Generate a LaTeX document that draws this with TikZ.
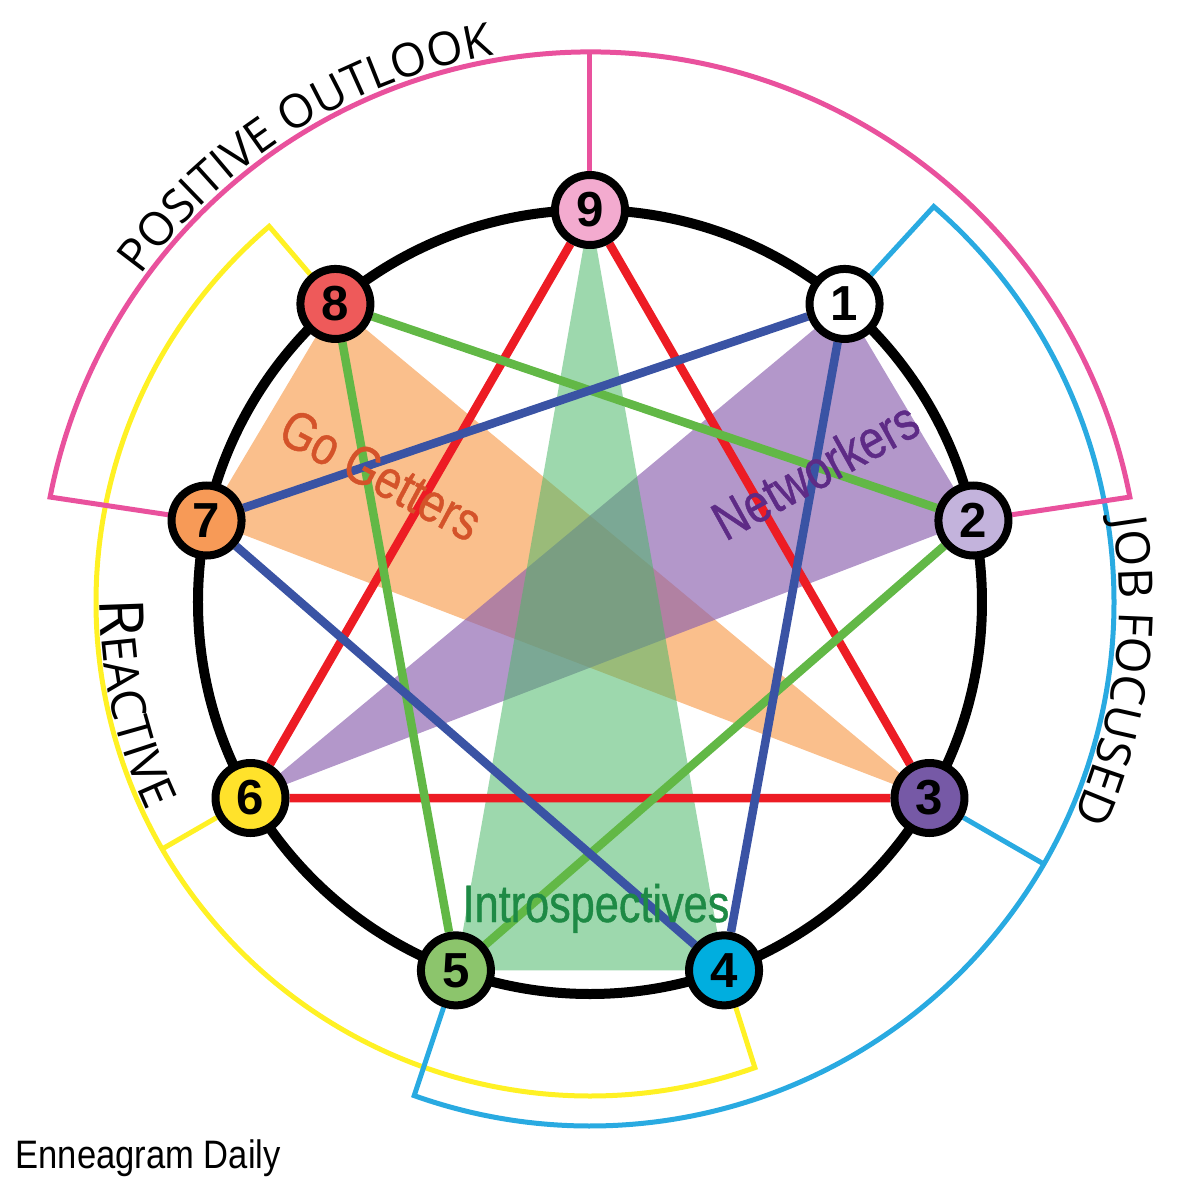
\documentclass[tikz,border=0pt]{standalone}
\usepackage{fontspec}
\setmainfont{Liberation Sans}
\newfontfamily\arcfont{Open Sans}
\newfontfamily\narrowfont[FakeStretch=0.82, FakeBold=0.8]{Liberation Sans}
\newfontfamily\creditfont[FakeStretch=0.87]{Liberation Sans}
\usetikzlibrary{decorations.text,backgrounds}
\definecolor{ninefill}{HTML}{F3ABCF}
\definecolor{eightfill}{HTML}{EE5A5A}
\definecolor{sevenfill}{HTML}{F79A57}
\definecolor{sixfill}{HTML}{FFE22B}
\definecolor{fivefill}{HTML}{8CC56C}
\definecolor{fourfill}{HTML}{00AEDF}
\definecolor{threefill}{HTML}{7659A6}
\definecolor{twofill}{HTML}{C3B3DC}
\definecolor{redline}{HTML}{ED1C24}
\definecolor{greenline}{HTML}{62B846}
\definecolor{blueline}{HTML}{3A53A4}
\definecolor{pinkbr}{HTML}{E9519D}
\definecolor{yellowbr}{HTML}{FFF124}
\definecolor{bluebr}{HTML}{29AAE1}
\definecolor{gogetter}{HTML}{F6953F}
\definecolor{networker}{HTML}{8A5FAE}
\definecolor{introspect}{HTML}{4DB86A}
\definecolor{gotext}{HTML}{D4532A}
\definecolor{nettext}{HTML}{5E2B86}
\definecolor{introtext}{HTML}{1E8A45}

\begin{document}
\begin{tikzpicture}[
        num/.style={circle, draw=black, line width=0.08cm, minimum size=0.7cm, inner sep=0pt, font=\bfseries\fontsize{14}{14}\selectfont},
        chord/.style={line width=0.085cm},
        bracket/.style={line width=0.05cm},
        group/.style={font=\narrowfont\fontsize{15.5}{15.5}\selectfont},
        ]
        \useasboundingbox (-5.90,-5.98) rectangle (6.10,6.02);
        \node[num, fill=ninefill] (n9) at (90:3.92) {9};
        \node[num, fill=white] (n1) at (49.5:3.92) {1};
        \node[num, fill=twofill] (n2) at (12:3.92) {2};
        \node[num, fill=threefill] (n3) at (-30:3.92) {3};
        \node[num, fill=fourfill] (n4) at (-70:3.92) {4};
        \node[num, fill=fivefill] (n5) at (-110:3.92) {5};
        \node[num, fill=sixfill] (n6) at (210:3.92) {6};
        \node[num, fill=sevenfill] (n7) at (168:3.92) {7};
        \node[num, fill=eightfill] (n8) at (130.5:3.92) {8};
        \begin{scope}[on background layer]
        \fill[gogetter, fill opacity=0.6] (n8.center) -- (n7.center) -- (n3.center) -- cycle;
        \fill[networker, fill opacity=0.65] (n1.center) -- (n2.center) -- (n6.center) -- cycle;
        \fill[introspect, fill opacity=0.55] (n9.center) -- (n5.center) -- (n4.center) -- cycle;
        \draw[line width=0.1cm] (0,0) circle (3.92);
        \draw[chord, redline] (n9) -- (n3) (n3) -- (n6) (n6) -- (n9);
        \draw[chord, greenline] (n8) -- (n2) (n2) -- (n5) (n5) -- (n8);
        \draw[chord, blueline] (n1) -- (n7) (n7) -- (n4) (n4) -- (n1);
        \draw[bracket, yellowbr] (n8) -- (130.5:4.94) arc[start angle=130.5, end angle=289.5, radius=4.94] -- (n4);
        \draw[bracket, yellowbr] (210:4.94) -- (n6);
        \draw[bracket, bluebr] (n1) -- (49:5.24) arc[start angle=49, end angle=-109.6, radius=5.24] -- (n5);
        \draw[bracket, bluebr] (-30:5.24) -- (n3);
        \draw[bracket, pinkbr] (n2) -- (11:5.5) arc[start angle=11, end angle=169, radius=5.5] -- (n7);
        \draw[bracket, pinkbr] (90:5.5) -- (n9);
        \end{scope}
        \path[decorate, decoration={text along path, text align=center,
                text={|\arcfont\fontsize{13.2}{14}\selectfont|POSITIVE OUTLOOK}}]
                (160:5.55) arc[start angle=160, end angle=84, radius=5.55];
        \path[decorate, decoration={text along path, text align=center,
                text={|\arcfont\fontsize{17.5}{17}\selectfont|R|\arcfont\fontsize{13.5}{13}\selectfont|EACTIVE}}]
                (165:4.9) arc[start angle=165, end angle=220, radius=4.9];
        \path[decorate, decoration={text along path, text align=center,
                text={|\arcfont\fontsize{13.5}{14}\selectfont|JOB FOCUSED}}]
                (20:5.29) arc[start angle=20, end angle=-35, radius=5.29];
        \node[group, text=gotext, rotate=-28] (go) at (-2.09,1.27) {Go Getters};
        \node[group, text=nettext, rotate=29] (net) at (2.25,1.32) {Networkers};
        \node[group, text=introtext, anchor=base, font=\narrowfont\fontsize{15}{15}\selectfont] (intro) at (0.06,-3.20) {Introspectives};
        \node[anchor=base west, inner sep=0pt, font=\creditfont\fontsize{11.3}{12}\selectfont] (credit) at (-5.75,-5.66) {Enneagram Daily};
\end{tikzpicture}
\end{document}
